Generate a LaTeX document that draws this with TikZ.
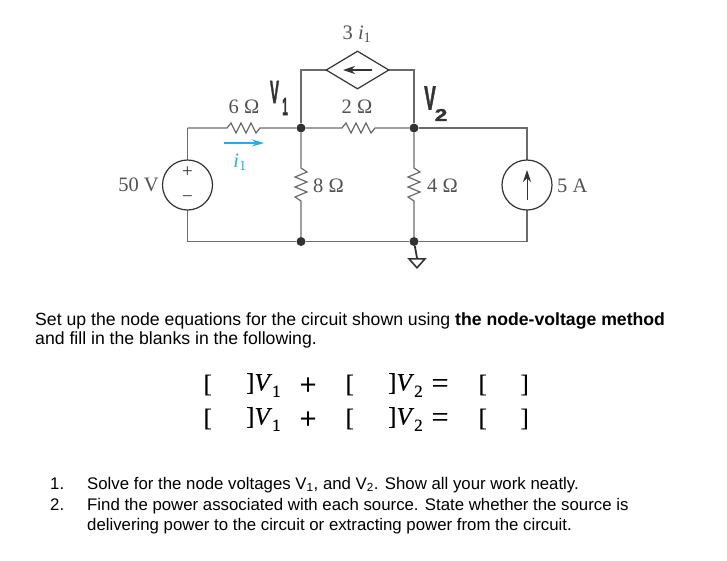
\documentclass[tikz,border=0pt]{standalone}
\usepackage{fontspec}
\setmainfont{Liberation Sans}
\newfontfamily\ckt{Liberation Serif}
\newfontfamily\eqf[FakeBold=0.25]{Liberation Serif}
\newfontfamily\handf[FakeBold=2]{Liberation Sans Bold}
\usetikzlibrary{arrows.meta,shapes.geometric}
\definecolor{wire}{gray}{0.42}
\definecolor{ink}{gray}{0.2}
\definecolor{cyanarrow}{RGB}{30,175,235}
\tikzset{
  wirepath/.style={draw=wire,line width=1.2pt},
  srcline/.style={draw=ink,line width=1.2pt},
  junction/.style={circle,fill=ink,draw=none,minimum size=9pt,inner sep=0pt},
  srccircle/.style={circle,draw=ink,line width=1.2pt,fill=white,minimum size=50pt,inner sep=0pt},
  depsrc/.style={diamond,draw=ink,line width=1.2pt,fill=white,minimum width=63pt,minimum height=38pt,inner sep=0pt},
  cktlabel/.style={font=\ckt\fontsize{20.5}{22}\selectfont,text=ink!85,inner sep=0pt},
  body/.style={anchor=base west,inner sep=0pt,font=\fontsize{16.8}{19}\selectfont,text=black},
  bodyb/.style={body,font=\fontsize{17.65}{20}\selectfont},
  eqn/.style={inner sep=0pt,font=\eqf\fontsize{25}{28}\selectfont,text=black},
  eqop/.style={inner sep=0pt,font=\eqf\fontsize{30}{32}\selectfont,text=black},
  hand/.style={inner sep=0pt,text=ink,font=\handf\fontsize{24}{26}\selectfont},
  resh/.style={insert path={-- ++(4,-5) -- ++(5,10) -- ++(5,-10) -- ++(5,10) -- ++(5,-10) -- ++(5,10) -- ++(4,-5)}},
  resv/.style={insert path={-- ++(6,4) -- ++(-12,5) -- ++(12,5) -- ++(-12,5) -- ++(12,5) -- ++(-12,5) -- ++(6,4)}},
}
\newcommand{\vsub}[1]{\textit{V}\raisebox{-0.25em}{\fontsize{17}{17}\selectfont #1}}
\begin{document}
\begin{tikzpicture}[x=1pt,y=-1pt]
\useasboundingbox (0,0) rectangle (727,560);
% corners and connection points
\coordinate (tl) at (187.5,128);
\coordinate (tr) at (527,128);
\coordinate (bl) at (187.5,241.5);
\coordinate (br) at (527,241.5);
\coordinate (dl) at (301,70);
\coordinate (dr) at (414,70);
\coordinate (r6a) at (227,128);
\coordinate (r2a) at (342,128);
\coordinate (r8a) at (301,168);
\coordinate (r4a) at (414,168);
\coordinate (gtop) at (417,258);
\coordinate (arrowa) at (224,143);
\coordinate (arrowb) at (264,143);
\node[junction] (A) at (301,128) {};
\node[junction] (B) at (414,128) {};
\node[junction] (C) at (301,241.5) {};
\node[junction] (D) at (414,241.5) {};
% wires
\draw[wirepath] (tl) -- (r6a) [resh] -- (A);
\draw[wirepath] (A) -- (r2a) [resh] -- (B);
\draw[wirepath] (B) -- (tr) -- (br) -- (D) -- (C) -- (bl) -- (tl);
\draw[wirepath] (A) -- (r8a) [resv] -- (C);
\draw[wirepath] (B) -- (r4a) [resv] -- (D);
\draw[wirepath] (A) -- (dl) -- (dr) -- (B);
% sources
\node[srccircle] (vs) at (187.5,185) {};
\node[inner sep=0pt,text=ink,font=\ckt\fontsize{19}{19}\selectfont] (vplus) at (187.5,172.5) {+};
\node[inner sep=0pt,text=ink,font=\ckt\fontsize{19}{19}\selectfont] (vminus) at (187.5,199) {\char"2212};
\node[srccircle] (is) at (527,185) {};
\coordinate (isa) at (527,200);
\coordinate (isb) at (527,170);
\draw[srcline,line width=1pt,-{Stealth[length=12pt,width=8pt]}] (isa) -- (isb);
\node[depsrc] (ds) at (357.5,70) {};
\coordinate (dsa) at (372,70);
\coordinate (dsb) at (343,70);
\draw[srcline,line width=1.1pt,-{Stealth[length=12pt,width=8pt]}] (dsa) -- (dsb);
% ground
\draw[srcline,line width=1.8pt] (D) -- (gtop);
\node[isosceles triangle,draw=ink,line width=1.6pt,isosceles triangle apex angle=90,shape border rotate=-90,inner sep=0pt,minimum width=16pt,anchor=north,isosceles triangle stretches=true,minimum height=9pt] (gnd) at (gtop) {};
% current arrow
\draw[cyanarrow,line width=1.1pt,-{Stealth[length=12pt,width=7pt]}] (arrowa) -- (arrowb);
\node[inner sep=0pt,text=cyanarrow,font=\ckt\fontsize{20.5}{22}\selectfont] (li) at (240,162) {\textit{i}\textsubscript{1}};
% labels
\node[cktlabel] (l6) at (244,107) {6 Ω};
\node[cktlabel] (l2) at (357,107) {2 Ω};
\node[cktlabel] (l3i) at (357,34) {3 \textit{i}\textsubscript{1}};
\node[cktlabel,anchor=east] (l50) at (159,185) {50 V};
\node[cktlabel,anchor=west] (l8) at (313,186) {8 Ω};
\node[cktlabel,anchor=west] (l4) at (427,186) {4 Ω};
\node[cktlabel,anchor=west] (l5) at (557,186) {5 A};
% handwritten node names
\node[hand,xscale=0.56,yscale=1.35] (v1) at (274.5,92) {V};
\node[hand,xscale=0.5,yscale=1.25,font=\handf\fontsize{20}{22}\selectfont] (s1) at (285,106.5) {1};
\node[hand,xscale=0.72,yscale=1.4] (v2) at (430,98) {V};
\node[hand,xscale=1.25,yscale=0.95,font=\handf\fontsize{18}{20}\selectfont] (s2) at (441,115) {2};
% text
\node[bodyb] (t1) at (35,325) {Set up the node equations for the circuit shown using \textbf{the node-voltage method}};
\node[bodyb] (t2) at (35,344) {and fill in the blanks in the following.};
\node[eqn,anchor=east] (e1a) at (212,385) {[};
\node[eqn,anchor=west] (e1b) at (246,385) {]\vsub{1}};
\node[eqop] (e1c) at (308,386) {+};
\node[eqn,anchor=east] (e1d) at (354,385) {[};
\node[eqn,anchor=west] (e1e) at (388,385) {]\vsub{2}};
\node[eqop] (e1f) at (440,386) {=};
\node[eqn,anchor=east] (e1g) at (487,385) {[};
\node[eqn,anchor=east] (e1h) at (529,385) {]};
\node[eqn,anchor=east] (e2a) at (212,419) {[};
\node[eqn,anchor=west] (e2b) at (246,419) {]\vsub{1}};
\node[eqop] (e2c) at (308,420) {+};
\node[eqn,anchor=east] (e2d) at (354,419) {[};
\node[eqn,anchor=west] (e2e) at (388,419) {]\vsub{2}};
\node[eqop] (e2f) at (440,420) {=};
\node[eqn,anchor=east] (e2g) at (487,419) {[};
\node[eqn,anchor=east] (e2h) at (529,419) {]};
\node[body] (n1) at (50,489) {1.};
\node[body] (q1) at (87,489) {Solve for the node voltages V\textsubscript{1}, and V\textsubscript{2}. Show all your work neatly.};
\node[body] (n2) at (50,510) {2.};
\node[body] (q2a) at (87,510) {Find the power associated with each source. State whether the source is};
\node[body] (q2b) at (87,530) {delivering power to the circuit or extracting power from the circuit.};
\end{tikzpicture}
\end{document}
